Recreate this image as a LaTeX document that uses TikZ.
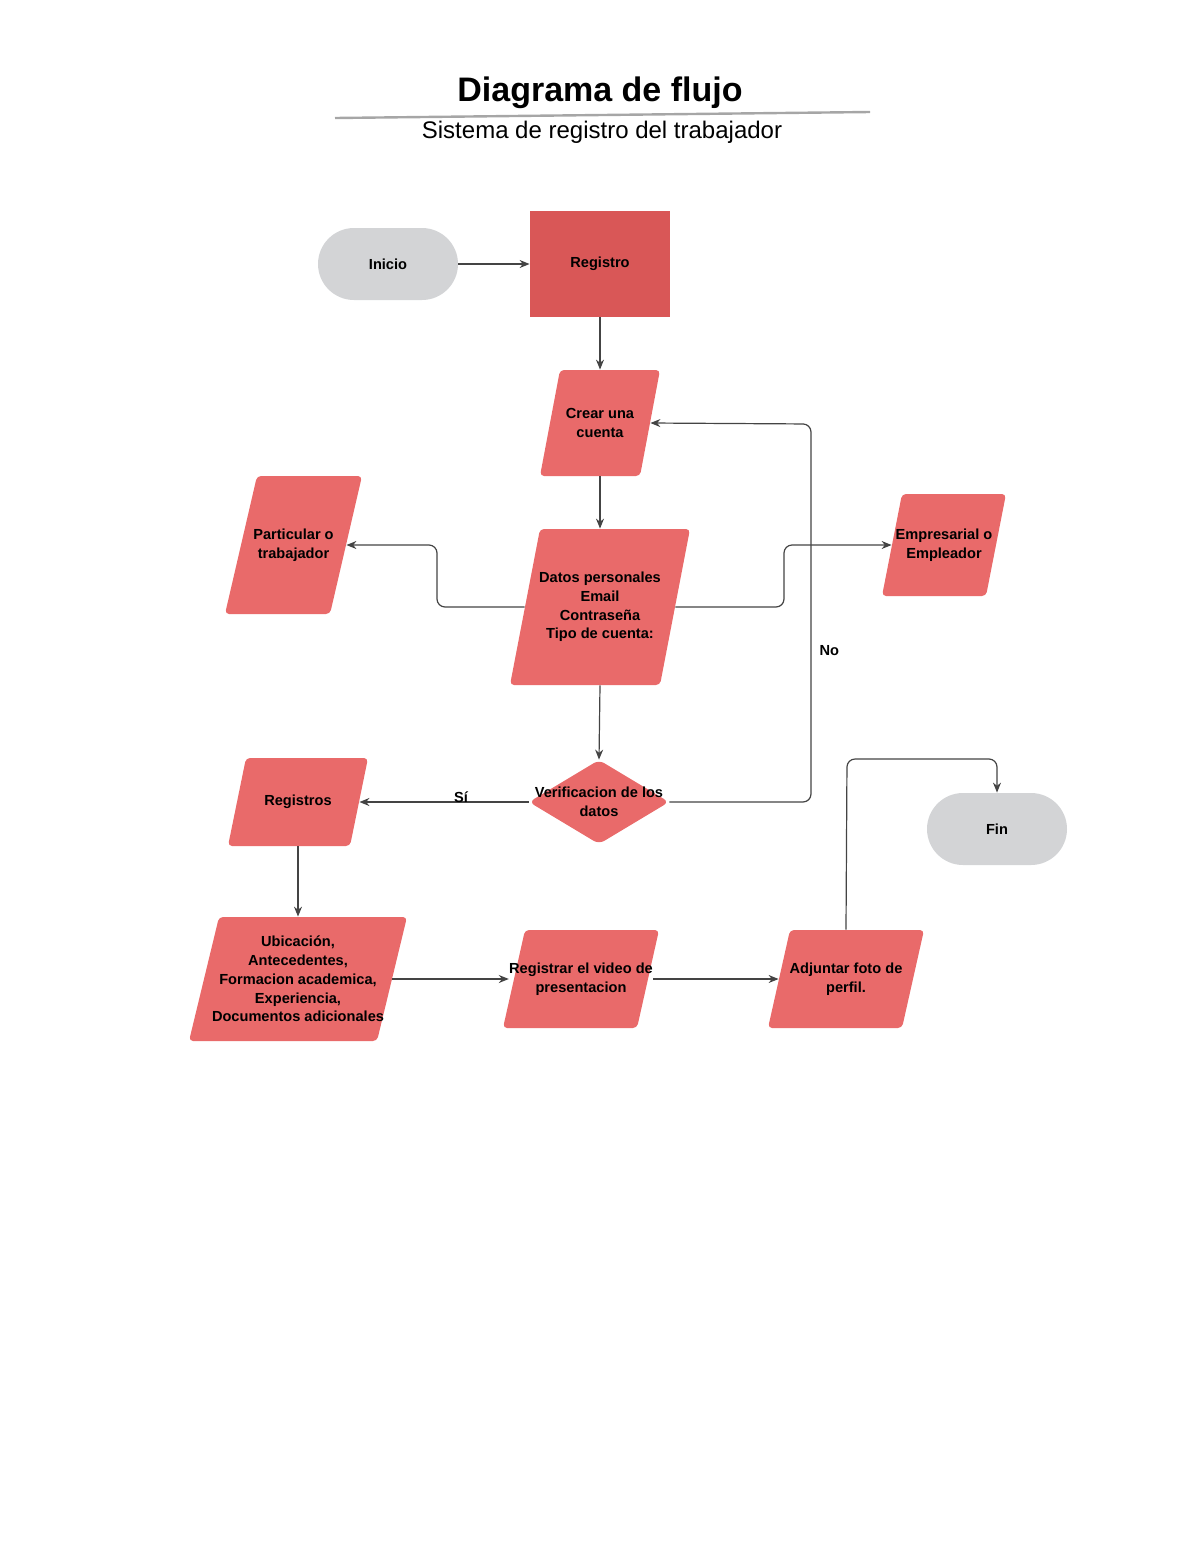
\documentclass[tikz,border=0pt]{standalone}
\usepackage{fontspec}
\setmainfont{Liberation Sans}
\usetikzlibrary{shapes.geometric,arrows.meta}
\definecolor{pcol}{HTML}{E96A6A}
\definecolor{rcol}{HTML}{D95757}
\definecolor{gcol}{HTML}{D3D4D6}
\definecolor{lcol}{HTML}{444444}
\tikzset{
  txt/.style={font=\bfseries\fontsize{7.3}{9.4}\selectfont, align=center, inner sep=0pt, text=black},
  conn/.style={draw=lcol, line width=0.6pt, -{Stealth[length=5pt,width=4pt]}, rounded corners=4pt},
  pill/.style={txt, fill=gcol, rounded corners=18pt, minimum width=70pt, minimum height=36pt},
}
\newcommand{\para}[7]{%
  \fill[pcol, rounded corners=2pt] ({#2-#4+#6},{#3-#5}) -- ({#2+#4+#6},{#3-#5}) -- ({#2+#4-#6},{#3+#5}) -- ({#2-#4-#6},{#3+#5}) -- cycle;
  \node[txt, minimum width={#4*1pt}, minimum height={#5*1pt}] (#1) at (#2,#3) {#7};}
\begin{document}
\begin{tikzpicture}[x=0.5pt,y=-0.5pt]
\useasboundingbox (0,0) rectangle (1200,1553);
\node[font=\bfseries\fontsize{17}{20}\selectfont] (title) at (600,93) {Diagrama de flujo};
\draw[gray!70, line width=1.2pt] (335,118) -- (870,112);
\node[font=\fontsize{12}{14}\selectfont] (sub) at (602,132) {Sistema de registro del trabajador};

\node[pill] (inicio) at (388,264) {Inicio};
\node[txt, fill=rcol, minimum width=70pt, minimum height=53pt] (reg) at (600,264) {Registro};
\para{crear}{600}{423}{50}{53}{10}{Crear una\\cuenta}
\para{part}{293.5}{545}{52.5}{69}{16}{Particular o\\trabajador}
\para{datos}{600}{607}{75}{78}{15}{Datos personales\\Email\\Contraseña\\Tipo de cuenta:}
\para{emp}{944}{545}{52}{51}{10}{Empresarial o\\Empleador}
\fill[pcol, rounded corners=3pt] (529,802) -- (599,760) -- (669,802) -- (599,844) -- cycle;
\node[txt, minimum width=70pt, minimum height=42pt] (ver) at (599,802) {Verificacion de los\\datos};
\para{regs}{298}{802}{61}{44}{9}{Registros}
\node[pill] (fin) at (997,829) {Fin};
\para{ubic}{298}{979}{94}{62}{15}{Ubicación,\\Antecedentes,\\Formacion academica,\\Experiencia,\\Documentos adicionales}
\para{video}{581}{979}{67}{49}{11}{Registrar el video de\\presentacion}
\para{foto}{846}{979}{67}{49}{11}{Adjuntar foto de\\perfil.}

\draw[conn] (inicio.east) -- (reg.west);
\draw[conn] (reg.south) -- (crear.north);
\draw[conn] (crear.south) -- (datos.north);
\draw[conn] (datos.west) -- (437,607) -- (437,545) -- (part.east);
\draw[conn] (datos.east) -- (784,607) -- (784,545) -- (emp.west);
\draw[conn] (datos.south) -- (ver.north);
\draw[conn, line width=1.1pt] (ver.west) -- node[txt, above=-1pt, pos=0.4] {Sí} (regs.east);
\draw[conn] (ver.east) -- (811,802) -- node[txt, right=4pt, pos=0.4] {No} (811,424) -- (crear.east);
\draw[conn] (regs.south) -- (ubic.north);
\draw[conn] (ubic.east) -- (video.west);
\draw[conn] (video.east) -- (foto.west);
\draw[conn] (foto.north) -- (847,759) -- (997,759) -- (fin.north);
\end{tikzpicture}
\end{document}
